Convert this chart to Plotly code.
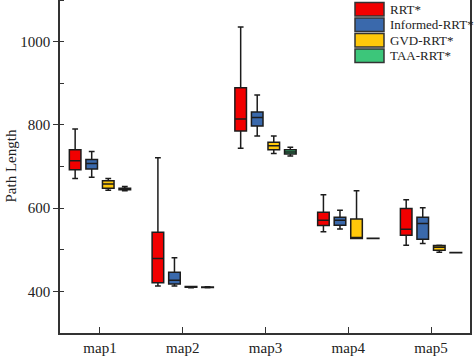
import plotly.graph_objects as go

categories = ["map1", "map2", "map3", "map4", "map5"]
series_names = ["RRT*", "Informed-RRT*", "GVD-RRT*", "TAA-RRT*"]
colors = ["#F20000", "#3A69AC", "#FFC80A", "#3CC67A"]

# box statistics per series, per map
rrt_low = [671, 413, 744, 543, 511]
rrt_q1 = [692, 421, 785, 558, 535]
rrt_med = [714, 479, 814, 571, 549]
rrt_q3 = [740, 542, 889, 590, 599]
rrt_high = [790, 721, 1035, 632, 620]

inf_low = [674, 413, 773, 550, 515]
inf_q1 = [694, 418, 797, 559, 525]
inf_med = [707, 427, 818, 571, 563]
inf_q3 = [717, 446, 831, 578, 578]
inf_high = [736, 481, 872, 595, 601]

gvd_low = [643, 409, 731, 527, 494]
gvd_q1 = [648, 410, 740, 527, 499]
gvd_med = [658, 411, 750, 528, 506]
gvd_q3 = [666, 411.5, 758, 574, 510]
gvd_high = [671, 412, 773, 642, 511]

taa_low = [642, 409, 725, 527, 492.5]
taa_q1 = [644, 409.5, 730, 527, 492.8]
taa_med = [646, 410, 735, 527.3, 493]
taa_q3 = [648, 410.5, 740, 527.5, 493.2]
taa_high = [652, 411, 746, 527.7, 493.5]

stats = [
    (rrt_low, rrt_q1, rrt_med, rrt_q3, rrt_high),
    (inf_low, inf_q1, inf_med, inf_q3, inf_high),
    (gvd_low, gvd_q1, gvd_med, gvd_q3, gvd_high),
    (taa_low, taa_q1, taa_med, taa_q3, taa_high),
]

FONT = "Liberation Serif, Times New Roman, serif"
LINE = "#1c1c1c"
AX = "#333333"

fig = go.Figure()
for name, col, (lo, q1, md, q3, hi) in zip(series_names, colors, stats):
    fig.add_trace(go.Box(
        name=name, x=categories, lowerfence=lo, q1=q1, median=md, q3=q3, upperfence=hi,
        fillcolor=col, line=dict(color=LINE, width=1.5), whiskerwidth=0.5,
        boxpoints=False, showlegend=False, hoverinfo="skip",
    ))

# custom legend (large swatches like the reference)
W, H, L, T = 474, 356, 60, 0
PW, PH = W - L - 4, H - T - 23

def px(xp):
    return (xp - L) / PW

def py(yp):
    return (PH + T - yp) / PH

row_tops = [2.5, 18, 33.5, 49]
for name, col, top in zip(series_names, colors, row_tops):
    fig.add_shape(type="rect", xref="paper", yref="paper",
                  x0=px(355), x1=px(384), y0=py(top + 13.5), y1=py(top),
                  fillcolor=col, line=dict(color=AX, width=1.5))
    fig.add_annotation(xref="paper", yref="paper", x=px(388), y=py(top + 6.75),
                       text=name, showarrow=False, xanchor="left", yanchor="middle",
                       font=dict(family=FONT, size=13, color="#222222"))

fig.add_annotation(xref="paper", yref="paper", x=px(10), y=0.5, text="Path Length",
                   textangle=-90, showarrow=False, xanchor="center", yanchor="middle",
                   font=dict(family=FONT, size=15, color="#222222"))

fig.update_layout(
    width=W, height=H, margin=dict(l=L, r=4, t=T, b=23),
    paper_bgcolor="white", plot_bgcolor="white",
    boxmode="group", boxgap=0.2, boxgroupgap=0.3,
    font=dict(family=FONT, size=15, color="#222222"),
    showlegend=False,
)
fig.update_xaxes(
    type="category", range=[-0.483, 4.471], showgrid=False, zeroline=False,
    showline=True, linecolor=AX, linewidth=1.5, mirror=False,
    ticks="inside", ticklen=6, tickwidth=1.2, tickcolor=AX,
    tickfont=dict(family=FONT, size=15, color="#222222"),
)
fig.update_yaxes(
    range=[300, 1100], tick0=0, dtick=200, showgrid=False, zeroline=False,
    showline=True, linecolor=AX, linewidth=1.5, mirror=True,
    ticks="outside", ticklen=5, tickwidth=1.2, tickcolor=AX,
    minor=dict(ticks="inside", ticklen=4, dtick=100, tickcolor=AX, tickwidth=1.2, showgrid=False),
    tickfont=dict(family=FONT, size=15, color="#222222"),
)

fig.write_html("out.html", config={"displayModeBar": False},
               post_script="document.body.style.margin='0px';document.body.style.overflow='hidden';")
